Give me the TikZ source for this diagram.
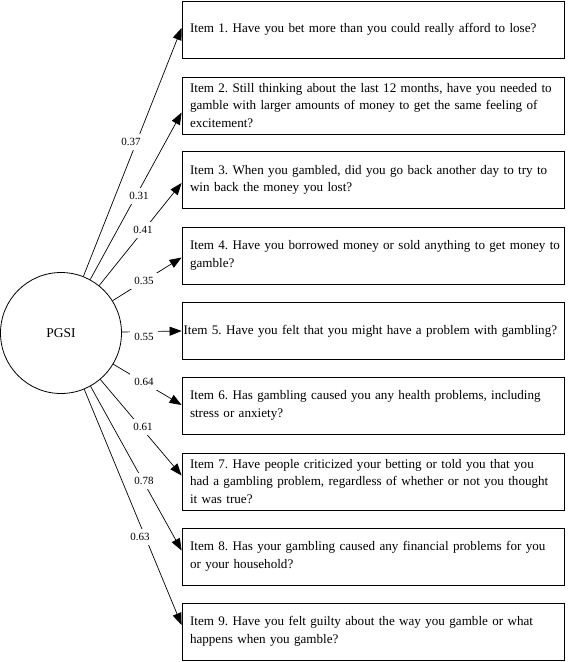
\documentclass[tikz,border=0pt]{standalone}
\usepackage{fontspec}
\setmainfont{Liberation Serif}
\usetikzlibrary{arrows.meta,calc}
\frenchspacing
\hyphenpenalty=10000
\exhyphenpenalty=10000
\begin{document}
\begin{tikzpicture}[x=1pt,y=-1pt,
  item/.style={draw, line width=0.8pt, rectangle, minimum width=382pt, minimum height=57pt,
    text width=366pt, inner xsep=8pt, inner ysep=0pt, align=left,
    font=\fontsize{13.1}{17.5}\selectfont},
  latent/.style={draw, circle, minimum size=121pt, inner sep=0pt, line width=0.8pt,
    font=\fontsize{13.5}{16}\selectfont},
  conn/.style={line width=0.7pt, -{Triangle[length=12pt,width=9pt]}},
  coef/.style={fill=white, inner sep=4.5pt, font=\fontsize{11}{13}\selectfont}]
\useasboundingbox (0,0) rectangle (568,662);
\node[latent] (pgsi) at (61,333) {PGSI};
\node[item] (b1) at (373,29.5) {\mbox{Item 1. Have you bet more than you could really afford to lose?}};
\node[item] (b2) at (373,105.5) {\mbox{Item 2. Still thinking about the last 12 months, have you needed to}\\\mbox{gamble with larger amounts of money to get the same feeling of}\\\mbox{excitement?}};
\node[item] (b3) at (373,180) {\mbox{Item 3. When you gambled, did you go back another day to try to}\\\mbox{win back the money you lost?}};
\node[item] (b4) at (373,255.5) {\mbox{Item 4. Have you borrowed money or sold anything to get money to}\\\mbox{gamble?}};
\node[item, inner xsep=1.5pt, text width=379pt] (b5) at (373,331) {\mbox{Item 5. Have you felt that you might have a problem with gambling?}};
\node[item] (b6) at (373,405.5) {\mbox{Item 6. Has gambling caused you any health problems, including}\\\mbox{stress or anxiety?}};
\node[item] (b7) at (373,481.5) {\mbox{Item 7. Have people criticized your betting or told you that you}\\\mbox{had a gambling problem, regardless of whether or not you thought}\\\mbox{it was true?}};
\node[item] (b8) at (373,556.5) {\mbox{Item 8. Has your gambling caused any financial problems for you}\\\mbox{or your household?}};
\node[item] (b9) at (373,631.5) {\mbox{Item 9. Have you felt guilty about the way you gamble or what}\\\mbox{happens when you gamble?}};
\draw[conn] (pgsi) -- ($(b1.west)+(0,-1.5)$);
\draw[conn] (pgsi) -- ($(b2.west)+(0,7)$);
\draw[conn] (pgsi) -- ($(b3.west)+(0,3)$);
\draw[conn] (pgsi) -- ($(b4.west)+(0,2)$);
\draw[conn] (pgsi) -- ($(b5.west)+(0,0)$);
\draw[conn] (pgsi) -- ($(b6.west)+(0,-0.5)$);
\draw[conn] (pgsi) -- ($(b7.west)+(0,-6)$);
\draw[conn] (pgsi) -- ($(b8.west)+(0,-6)$);
\draw[conn] (pgsi) -- ($(b9.west)+(0,-6.5)$);
\node[coef] (l1) at (131,142) {0.37};
\node[coef] (l2) at (139,196) {0.31};
\node[coef] (l3) at (143,230) {0.41};
\node[coef] (l4) at (144,281) {0.35};
\node[coef] (l5) at (144,337) {0.55};
\node[coef] (l6) at (144,382) {0.64};
\node[coef] (l7) at (143,427) {0.61};
\node[coef] (l8) at (144,481) {0.78};
\node[coef] (l9) at (140,537) {0.63};
\end{tikzpicture}
\end{document}
